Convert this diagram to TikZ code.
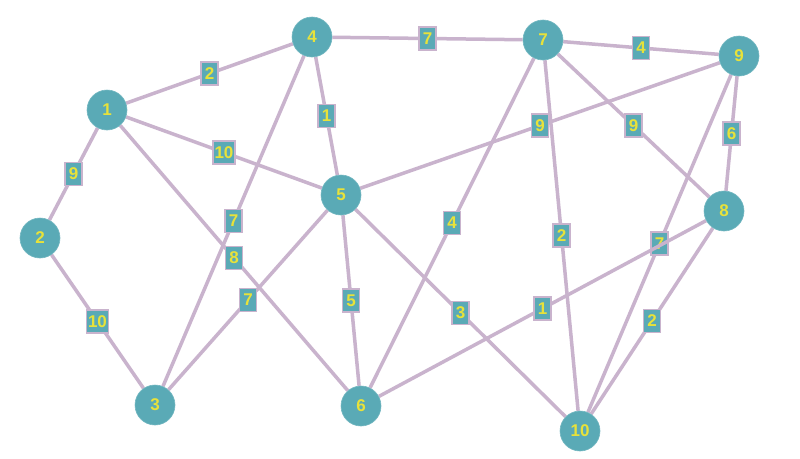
\documentclass[tikz,border=0pt]{standalone}
\usepackage{fontspec}
\setmainfont{Liberation Sans}
\usetikzlibrary{backgrounds}
\definecolor{teal1}{HTML}{5AAAB6}
\definecolor{lav}{HTML}{C9B3CD}
\definecolor{yel}{HTML}{E8E23A}
\begin{document}
\begin{tikzpicture}[x=1pt,y=-1pt,
  vert/.style={circle,fill=teal1,draw=teal1!85!white,line width=0.6pt,minimum size=40pt,inner sep=0pt,text=yel,font=\bfseries\fontsize{17}{17}\selectfont},
  edge/.style={draw=lav,line width=3.5pt},
  wt/.style={fill=teal1,draw=lav,line width=1.8pt,text=yel,font=\bfseries\fontsize{17}{17}\selectfont,inner sep=1.5pt,minimum height=23pt,minimum width=17pt}]
\useasboundingbox (0,0) rectangle (800,458);
\foreach \i/\x/\y in {1/107/110,2/40/238,3/155/405,4/312/37,5/341/195,6/361/406,7/543/40,8/724/211,9/739/56,10/580/431}{
  \node[vert] (n\i) at (\x,\y) {\i};
}
\begin{scope}[on background layer]
\fill[white] (0,0) rectangle (800,458);
\foreach \a/\b/\w in {1/4/2,1/2/9,2/3/10,1/5/10,1/6/8,4/5/1,4/3/7,4/7/7,3/5/7,5/6/5,5/10/3,5/9/9,7/6/4,7/9/4,7/8/9,7/10/2,9/8/6,9/10/7,8/6/1,8/10/2}{
  \draw[edge] (n\a) -- node[wt] (w\a-\b) {\w} (n\b);
}
\end{scope}
\end{tikzpicture}
\end{document}
